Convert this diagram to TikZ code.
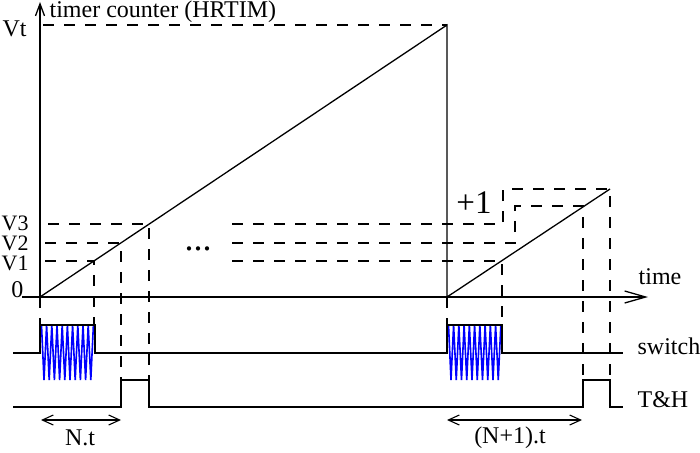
\documentclass[tikz,border=0pt]{standalone}
\usepackage{fontspec}
\setmainfont{Liberation Serif}
\usetikzlibrary{arrows.meta}
\begin{document}
\begin{tikzpicture}[x=1pt,y=-1pt,line width=1.3pt,
  dsh/.style={line width=1.2pt,dash pattern=on 11pt off 10pt},
  lbl/.style={font=\fontsize{24}{28}\selectfont,inner sep=0pt},
  vl/.style={font=\fontsize{22}{24}\selectfont,inner sep=0pt,anchor=west},
  osc/.style={draw=blue,line width=1.6pt},
  ax/.style={-{Straight Barb[length=21pt,width=12pt]}},
  ay/.style={-{Straight Barb[length=12pt,width=9pt]}},
  dim/.style={{Straight Barb[length=11pt,width=10pt]}-{Straight Barb[length=11pt,width=10pt]}}]
\useasboundingbox (0,0) rectangle (700,452);
% named points
\coordinate (O) at (40,297);
\coordinate (ytop) at (40,2);
\coordinate (xs) at (22,297);
\coordinate (xe) at (648,297);
\coordinate (peak) at (447,25);
\coordinate (O2) at (447,297);
\coordinate (peak2) at (610,189);
% axes
\draw[ay] (O) -- (ytop);
\draw[ax] (xs) -- (xe);
% ramps
\draw (O) -- (peak) -- (O2) -- (peak2);
% dashed guides
\draw[dsh,dash phase=-3pt] (40,25) -- (peak);
\draw[dsh,dash phase=-5pt] (40,261) -- (94,261) -- (94,325);
\draw[dsh,dash phase=-5pt] (40,243) -- (121,243) -- (121,380);
\draw[dsh,dash phase=-8pt] (40,224) -- (149,224) -- (149,380);
\draw[dsh] (232,224) -- (503,224) -- (503,189) -- (peak2) -- (610,380);
\draw[dsh] (232,243) -- (515,243) -- (515,206) -- (583,206) -- (583,380);
\draw[dsh] (232,261) -- (502,261) -- (502,325);
\draw[dsh] (O) -- (40,325);
\draw[dsh] (O2) -- (447,325);
% switch signal
\draw[osc] (41.5,325) foreach \i in {0,...,9} { -- ({44+5.2*\i},380) -- ({46.6+5.2*\i},325) };
\draw[osc] (448.5,325) foreach \i in {0,...,9} { -- ({451+5.25*\i},380) -- ({453.6+5.25*\i},325) };
\draw (13,353) -- (40,353) -- (40,325) -- (95,325) -- (95,353) -- (447,353) -- (447,325) -- (502,325) -- (502,353) -- (623,353);
% T&H signal
\draw (13,407) -- (121,407) -- (121,380) -- (149,380) -- (149,407) -- (583,407) -- (583,380) -- (610,380) -- (610,407) -- (623,407);
% dimension arrows
\coordinate (n1) at (41,420);
\coordinate (n2) at (121,420);
\coordinate (m1) at (447,420);
\coordinate (m2) at (582,420);
\draw[dim,line width=1.1pt] (n1) -- (n2);
\draw[dim,line width=1.1pt] (m1) -- (m2);
% labels
\node[lbl,anchor=west] (ylab) at (49,12) {timer counter (HRTIM)};
\node[lbl,anchor=west] (lvt) at (2,29) {Vt};
\node[vl] (lv3) at (1,223) {V3};
\node[vl] (lv2) at (1,243) {V2};
\node[vl] (lv1) at (1,263) {V1};
\node[lbl,anchor=east] (l0) at (24,290) {0};
\node[lbl,anchor=west] (ltime) at (638,277) {time};
\node[lbl,anchor=west] (lsw) at (637,346) {switch};
\node[lbl,anchor=west] (lth) at (637,400) {T\&H};
\node[lbl] (lnt) at (80,438) {N.t};
\node[lbl] (ln1t) at (510,438) {(N+1).t};
\node[lbl,font=\fontsize{33}{36}\selectfont] (lp1) at (474,203) {+1};
\node[lbl,font=\fontsize{36}{40}\selectfont,anchor=base] (ldots) at (198,250) {...};
\end{tikzpicture}
\end{document}
